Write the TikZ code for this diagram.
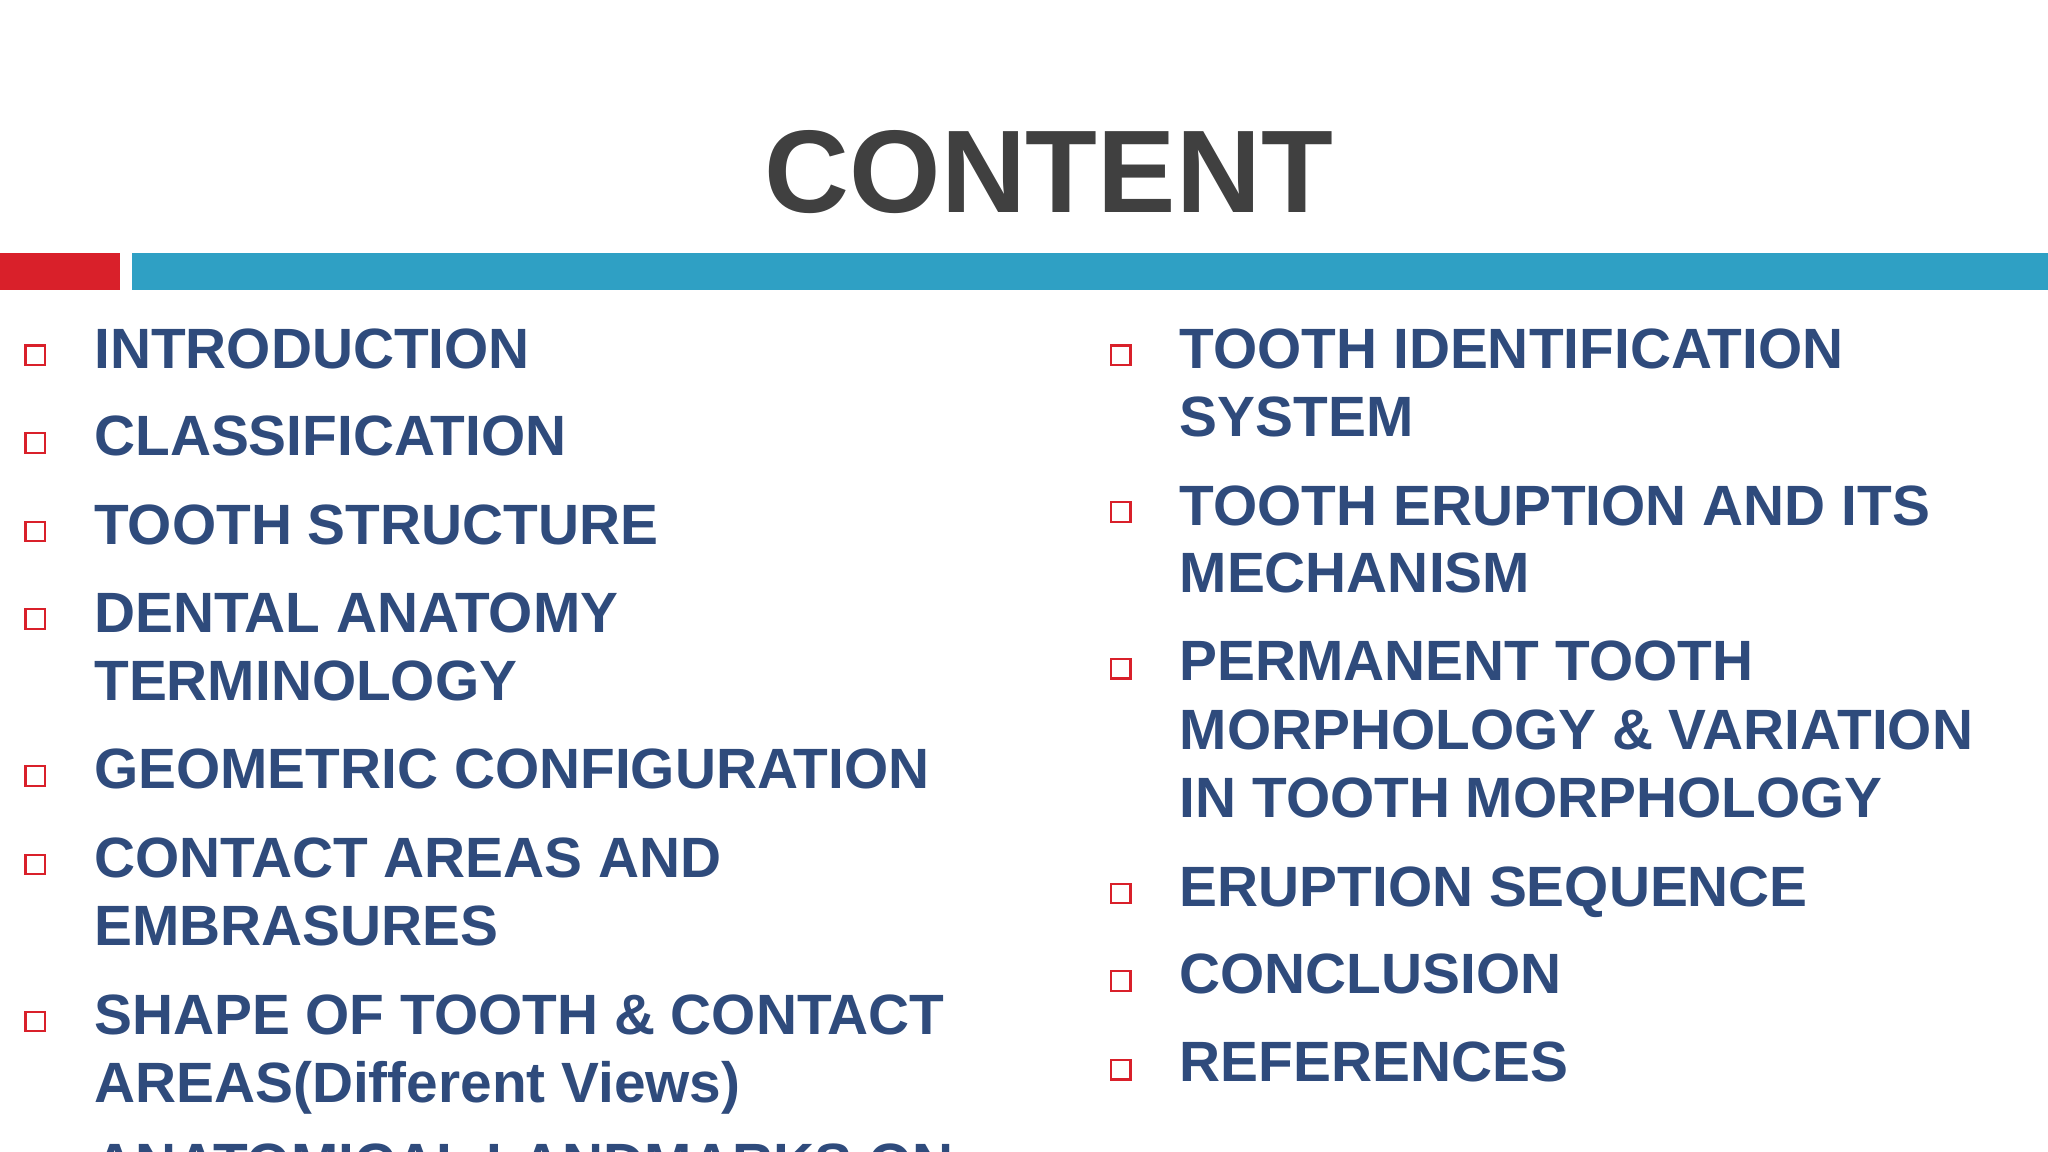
\documentclass[tikz,border=0pt]{standalone}
\usepackage{fontspec}
\setmainfont{Liberation Sans}
\definecolor{navy}{HTML}{2F4B7C}
\definecolor{tgray}{HTML}{404040}
\definecolor{bred}{HTML}{D9202A}
\definecolor{bblue}{HTML}{2FA0C4}
\begin{document}
\begin{tikzpicture}[x=1pt,y=-1pt,
  item/.style={anchor=base west,inner sep=0,text=navy,font=\fontsize{43.5}{52}\selectfont\bfseries},
  bul/.style={draw=bred,line width=1.6pt,minimum size=15pt,inner sep=0}]
\useasboundingbox (0,0) rectangle (1568,882);
\clip (0,0) rectangle (1568,882);
\node[anchor=base,inner sep=0,text=tgray,font=\fontsize{90}{100}\selectfont\bfseries] (title) at (803,163) {CONTENT};
\fill[bred] (0,194) rectangle (92,222);
\fill[bblue] (101,194) rectangle (1568,222);
% left column
\foreach \n/\y in {a/272,b/339,c/407,d/474,e/594,f/662,g/782}
  \node[bul] (b\n) at (27,\y) {};
\node[item] (l1) at (72,282) {INTRODUCTION};
\node[item] (l2) at (72,349) {CLASSIFICATION};
\node[item] (l3) at (72,417) {TOOTH STRUCTURE};
\node[item] (l4a) at (72,484) {DENTAL ANATOMY};
\node[item] (l4b) at (72,536) {TERMINOLOGY};
\node[item] (l5) at (72,604) {GEOMETRIC CONFIGURATION};
\node[item] (l6a) at (72,672) {CONTACT AREAS AND};
\node[item] (l6b) at (72,724) {EMBRASURES};
\node[item] (l7a) at (72,792) {SHAPE OF TOOTH \& CONTACT};
\node[item] (l7b) at (72,844) {AREAS(Different Views)};
\node[item] (l8) at (72,906) {ANATOMICAL LANDMARKS ON};
% right column
\foreach \n/\y in {a/272,b/392,c/512,d/684,e/751,f/819}
  \node[bul] (r\n) at (858,\y) {};
\node[item] (r1a) at (903,282) {TOOTH IDENTIFICATION};
\node[item] (r1b) at (903,334) {SYSTEM};
\node[item] (r2a) at (903,402) {TOOTH ERUPTION AND ITS};
\node[item] (r2b) at (903,454) {MECHANISM};
\node[item] (r3a) at (903,521) {PERMANENT TOOTH};
\node[item] (r3b) at (903,574) {MORPHOLOGY \& VARIATION};
\node[item] (r3c) at (903,626) {IN TOOTH MORPHOLOGY};
\node[item] (r4) at (903,694) {ERUPTION SEQUENCE};
\node[item] (r5) at (903,761) {CONCLUSION};
\node[item] (r6) at (903,828) {REFERENCES};
\end{tikzpicture}
\end{document}
